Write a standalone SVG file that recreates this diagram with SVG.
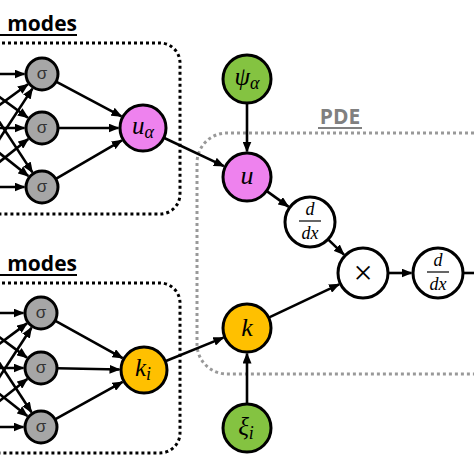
<svg xmlns="http://www.w3.org/2000/svg" width="474" height="474" viewBox="0 0 474 474">
<style>
.nd{stroke:#000;stroke-width:3}
.sig{fill:#a6a6a6}
.pink{fill:#ee82ee}
.green{fill:#84c341}
.orange{fill:#ffc000}
.white{fill:#fff}
.ln{stroke:#000;stroke-width:2.6;fill:none}
.ar{marker-end:url(#ah)}
.st{font-family:"Liberation Sans",Arial,sans-serif;font-size:17px;fill:#333;text-anchor:middle}
.m{font-family:"Liberation Serif","DejaVu Serif",serif;font-style:italic;fill:#000;text-anchor:middle}
.ttl{font-family:"Open Sans","Liberation Sans",sans-serif;font-weight:bold;font-size:21px}
</style>
<defs>
<marker id="ah" markerUnits="userSpaceOnUse" markerWidth="11" markerHeight="9" refX="10" refY="4.5" orient="auto">
<path d="M0,0 L11,4.5 L0,9 z" fill="#000"/>
</marker>
</defs>
<g id="frames">
<path d="M-10,43 H160 A20,20 0 0 1 180,63 V194 A20,20 0 0 1 160,214 H-10" fill="none" stroke="#000" stroke-width="3" stroke-dasharray="3 3"/>
<path d="M-10,283 H160 A20,20 0 0 1 180,303 V433 A20,20 0 0 1 160,453 H-10" fill="none" stroke="#000" stroke-width="3" stroke-dasharray="3 3"/>
<path d="M480,133 H227 A30,30 0 0 0 197,163 V344 A30,30 0 0 0 227,374 H480" fill="none" stroke="#999" stroke-width="3" stroke-dasharray="3 3"/>
<text class="ttl" x="77" y="31" text-anchor="end" fill="#000">modes</text>
<line x1="0" y1="35" x2="77" y2="35" stroke="#000" stroke-width="2"/>
<text class="ttl" x="77" y="271" text-anchor="end" fill="#000">modes</text>
<line x1="0" y1="275" x2="77" y2="275" stroke="#000" stroke-width="2"/>
<text class="ttl" x="340" y="124" text-anchor="middle" fill="#808080">PDE</text>
<line x1="318" y1="128" x2="362" y2="128" stroke="#808080" stroke-width="2"/>
</g>
<g id="connectors">
<line class="ln ar" x1="-32" y1="74" x2="24.5" y2="74"/>
<line class="ln ar" x1="-32" y1="128" x2="27.9" y2="84.3"/>
<line class="ln ar" x1="-32" y1="187" x2="32.4" y2="88.6"/>
<line class="ln ar" x1="-32" y1="74" x2="27.9" y2="117.7"/>
<line class="ln ar" x1="-32" y1="128" x2="24.5" y2="128"/>
<line class="ln ar" x1="-32" y1="187" x2="28.3" y2="138.9"/>
<line class="ln ar" x1="-32" y1="74" x2="32.4" y2="172.4"/>
<line class="ln ar" x1="-32" y1="128" x2="28.3" y2="176.1"/>
<line class="ln ar" x1="-32" y1="187" x2="24.5" y2="187"/>
<line class="ln ar" x1="56.1" y1="81.6" x2="121.4" y2="116.4"/>
<line class="ln ar" x1="58" y1="128" x2="118.5" y2="128"/>
<line class="ln ar" x1="55.8" y1="178.9" x2="121.9" y2="140.3"/>
<line class="ln ar" x1="-33" y1="313" x2="23.5" y2="313"/>
<line class="ln ar" x1="-33" y1="368" x2="26.95" y2="323.4"/>
<line class="ln ar" x1="-33" y1="427" x2="31.5" y2="327.7"/>
<line class="ln ar" x1="-33" y1="313" x2="26.95" y2="357.6"/>
<line class="ln ar" x1="-33" y1="368" x2="23.5" y2="368"/>
<line class="ln ar" x1="-33" y1="427" x2="27.3" y2="378.9"/>
<line class="ln ar" x1="-33" y1="313" x2="31.5" y2="412.3"/>
<line class="ln ar" x1="-33" y1="368" x2="27.3" y2="416.1"/>
<line class="ln ar" x1="-33" y1="427" x2="23.5" y2="427"/>
<line class="ln ar" x1="55" y1="320.7" x2="122.6" y2="358.1"/>
<line class="ln ar" x1="57" y1="368.3" x2="119.5" y2="369.5"/>
<line class="ln ar" x1="55" y1="419.3" x2="122.6" y2="381.9"/>
<line class="ln ar" x1="163.8" y1="137.8" x2="223.9" y2="166.1"/>
<line class="ln ar" x1="165.3" y1="361.3" x2="223.4" y2="337.6"/>
<line class="ln ar" x1="247" y1="103" x2="247" y2="151.5"/>
<line class="ln ar" x1="247" y1="404" x2="247" y2="353.5"/>
<line class="ln ar" x1="266.5" y1="190.9" x2="288.4" y2="206.6"/>
<line class="ln ar" x1="327.3" y1="238.6" x2="343.9" y2="254.6"/>
<line class="ln ar" x1="268.7" y1="317.7" x2="339.1" y2="284.3"/>
<line class="ln ar" x1="388" y1="273" x2="411.5" y2="273"/>
<line class="ln" x1="463" y1="273" x2="476" y2="273"/>
</g>
<g id="sigma-a1"><circle class="nd sig" cx="42" cy="74" r="16"/><text class="st" x="42" y="79">σ</text></g>
<g id="sigma-a2"><circle class="nd sig" cx="42" cy="128" r="16"/><text class="st" x="42" y="133">σ</text></g>
<g id="sigma-a3"><circle class="nd sig" cx="42" cy="187" r="16"/><text class="st" x="42" y="192">σ</text></g>
<g id="sigma-k1"><circle class="nd sig" cx="41" cy="313" r="16"/><text class="st" x="41" y="318">σ</text></g>
<g id="sigma-k2"><circle class="nd sig" cx="41" cy="368" r="16"/><text class="st" x="41" y="373">σ</text></g>
<g id="sigma-k3"><circle class="nd sig" cx="41" cy="427" r="16"/><text class="st" x="41" y="432">σ</text></g>
<g id="u-alpha"><circle class="nd pink" cx="143" cy="128" r="23"/><text class="m" x="143" y="134" font-size="25">u<tspan font-size="18" dy="4">α</tspan></text></g>
<g id="k-i"><circle class="nd orange" cx="144" cy="370" r="23"/><text class="m" x="143" y="376" font-size="25">k<tspan font-size="18" dy="4">i</tspan></text></g>
<g id="psi-alpha"><circle class="nd green" cx="247" cy="79" r="24"/><text class="m" x="247" y="85" font-size="25">ψ<tspan font-size="18" dy="4">α</tspan></text></g>
<g id="u"><circle class="nd pink" cx="247" cy="177" r="24"/><text class="m" x="247" y="184" font-size="26">u</text></g>
<g id="k"><circle class="nd orange" cx="247" cy="328" r="24"/><text class="m" x="247" y="336" font-size="26">k</text></g>
<g id="xi-i"><circle class="nd green" cx="247" cy="428" r="24"/><text class="m" x="246" y="435" font-size="25">ξ<tspan font-size="18" dy="4">i</tspan></text></g>
<g id="ddx1"><circle class="nd white" cx="310" cy="222" r="25"/><text class="m" x="310" y="215" font-size="18">d</text><line x1="299" y1="221" x2="321" y2="221" stroke="#000" stroke-width="1.2"/><text class="m" x="310" y="239" font-size="18">dx</text></g>
<g id="times"><circle class="nd white" cx="363" cy="273" r="25"/><text x="363" y="284" font-family="Liberation Serif,serif" font-size="34" text-anchor="middle" fill="#000">×</text></g>
<g id="ddx2"><circle class="nd white" cx="438" cy="273" r="25"/><text class="m" x="438" y="266" font-size="18">d</text><line x1="427" y1="272" x2="449" y2="272" stroke="#000" stroke-width="1.2"/><text class="m" x="438" y="290" font-size="18">dx</text></g>
</svg>
